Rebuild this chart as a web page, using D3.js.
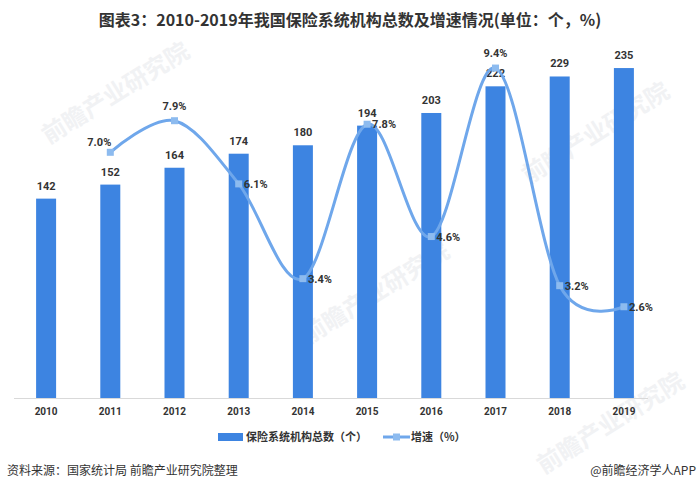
<!DOCTYPE html>
<html>
<head>
<meta charset="UTF-8">
<title>2010-2019年我国保险系统机构总数及增速情况</title>
<style>
  body { margin: 0; background: #fff; }
  svg { display: block; font-family: "Noto Sans CJK SC", "Noto Sans", sans-serif; }
</style>
</head>
<body>
<svg id="chart"></svg>
<script src="https://d3js.org/d3.v7.min.js"></script>
<script>
let width = 700, height = 493;

// data
var years = ["2010", "2011", "2012", "2013", "2014", "2015", "2016", "2017", "2018", "2019"];
var counts = [142, 152, 164, 174, 180, 194, 203, 222, 229, 235];
var growthYears = ["2011", "2012", "2013", "2014", "2015", "2016", "2017", "2018", "2019"];
var growth = [7.0, 7.9, 6.1, 3.4, 7.8, 4.6, 9.4, 3.2, 2.6];
// where each growth label sits relative to its marker
var growthLabelPos = ["left", "top", "right", "right", "right", "right", "top", "right", "right"];

var barColor = "#3d84e1";
var lineColor = "#6fa7eb";
var markColor = "#8dbbef";

let svg = d3.select("#chart")
    .attr("width", width)
    .attr("height", height);

// faint watermarks
var marks = [[120, 100], [380, 300], [600, 140], [615, 430]];
svg.append("g").selectAll("text")
  .data(marks)
  .enter()
  .append("text")
    .attr("transform", d => "translate(" + d[0] + "," + d[1] + ") rotate(-32)")
    .attr("text-anchor", "middle")
    .style("font-size", "24px")
    .style("font-weight", "bold")
    .style("fill", "#f1f2f4")
    .text("前瞻产业研究院");

// title
svg.append("text")
    .attr("x", 350)
    .attr("y", 26)
    .attr("text-anchor", "middle")
    .style("font-size", "16px")
    .style("font-weight", "bold")
    .style("fill", "#333")
    .text("图表3：2010-2019年我国保险系统机构总数及增速情况(单位：个，%)");

let x = d3.scaleBand()
    .domain(years)
    .range([14, 656]);

let y = d3.scaleLinear()
    .domain([0, 250])
    .range([398, 47]);

let y2 = d3.scaleLinear()
    .domain([0, 10])
    .range([398, 47]);

var barW = 20;

// axis
let xAxis = svg.append("g")
    .attr("transform", "translate(0,398)")
    .call(d3.axisBottom(x).tickSize(0).tickPadding(10));
xAxis.select(".domain").remove();
xAxis.selectAll("text")
    .style("font-size", "10px")
    .style("font-weight", "bold")
    .style("fill", "#333")
    .style("font-family", "Roboto, 'Liberation Sans', sans-serif");

svg.append("line")
    .attr("x1", 14).attr("x2", 648)
    .attr("y1", 398.5).attr("y2", 398.5)
    .attr("stroke", "#d9d9d9");

// bars
svg.append("g").selectAll("rect")
  .data(counts)
  .enter()
  .append("rect")
    .attr("x", (d, i) => x(years[i]) + x.bandwidth() / 2 - barW / 2)
    .attr("y", d => y(d))
    .attr("width", barW)
    .attr("height", d => y(0) - y(d))
    .attr("fill", barColor);

svg.append("g").selectAll("text")
  .data(counts)
  .enter()
  .append("text")
    .attr("x", (d, i) => x(years[i]) + x.bandwidth() / 2)
    .attr("y", d => y(d) - 9)
    .attr("text-anchor", "middle")
    .style("font-size", "11px")
    .style("font-weight", "bold")
    .style("fill", "#333")
    .style("font-family", "Roboto, 'Liberation Sans', sans-serif")
    .text(d => d);

// growth line
var pts = growth.map((g, i) => [x(growthYears[i]) + x.bandwidth() / 2, y2(g)]);

svg.append("path")
    .datum(pts)
    .attr("fill", "none")
    .attr("stroke", lineColor)
    .attr("stroke-width", 3)
    .attr("d", d3.line().curve(d3.curveCardinal.tension(0)));

svg.append("g").selectAll("rect")
  .data(pts)
  .enter()
  .append("rect")
    .attr("x", d => d[0] - 3.5)
    .attr("y", d => d[1] - 3.5)
    .attr("width", 7)
    .attr("height", 7)
    .attr("fill", markColor);

svg.append("g").selectAll("text")
  .data(growth)
  .enter()
  .append("text")
    .attr("x", (d, i) => {
      var p = growthLabelPos[i];
      if (p == "left") return pts[i][0] - 11;
      if (p == "top") return pts[i][0];
      return pts[i][0] + 5;
    })
    .attr("y", (d, i) => {
      var p = growthLabelPos[i];
      if (p == "left") return pts[i][1] - 6;
      if (p == "top") return pts[i][1] - 11;
      return pts[i][1] + 4;
    })
    .attr("text-anchor", (d, i) => growthLabelPos[i] == "right" ? "start" : "middle")
    .style("font-size", "11px")
    .style("font-weight", "bold")
    .style("fill", "#333")
    .style("font-family", "Roboto, 'Liberation Sans', sans-serif")
    .text(d => d.toFixed(1) + "%");

// legend
var lg = svg.append("g");
lg.append("rect")
    .attr("x", 218).attr("y", 433)
    .attr("width", 25).attr("height", 8)
    .attr("fill", barColor);
lg.append("text")
    .attr("x", 246).attr("y", 441)
    .style("font-size", "11px")
    .style("font-weight", "bold")
    .style("fill", "#333")
    .text("保险系统机构总数（个）");
lg.append("line")
    .attr("x1", 383).attr("x2", 410)
    .attr("y1", 437).attr("y2", 437)
    .attr("stroke", lineColor)
    .attr("stroke-width", 3);
lg.append("rect")
    .attr("x", 393).attr("y", 433.5)
    .attr("width", 7).attr("height", 7)
    .attr("fill", markColor);
lg.append("text")
    .attr("x", 411).attr("y", 441)
    .style("font-size", "11px")
    .style("font-weight", "bold")
    .style("fill", "#333")
    .text("增速（%）");

// footer
svg.append("text")
    .attr("x", 7).attr("y", 475)
    .style("font-size", "12px")
    .style("fill", "#333")
    .text("资料来源：国家统计局 前瞻产业研究院整理");
svg.append("text")
    .attr("x", 696).attr("y", 475)
    .attr("text-anchor", "end")
    .style("font-size", "12px")
    .style("fill", "#333")
    .text("@前瞻经济学人APP");
</script>
</body>
</html>
